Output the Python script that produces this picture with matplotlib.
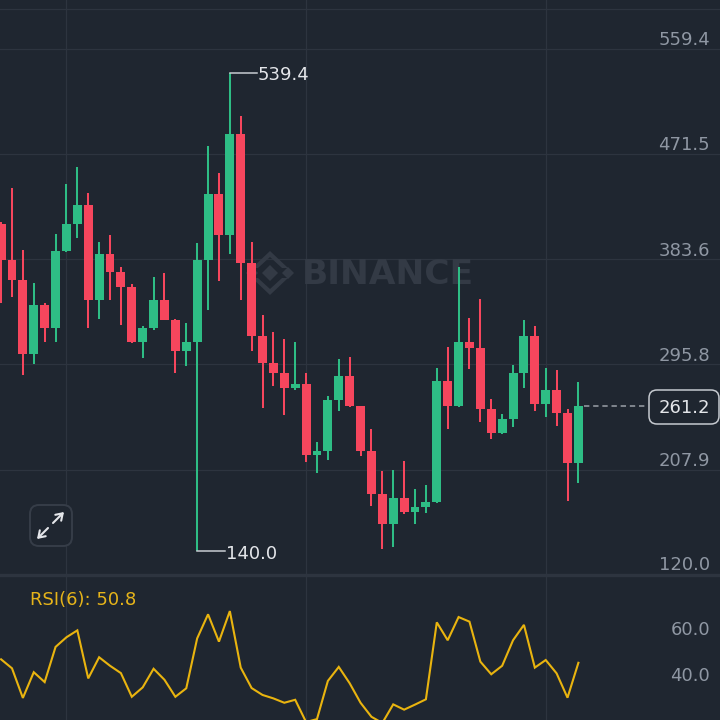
#!/usr/bin/env python
import numpy as np
import matplotlib
matplotlib.use('Agg')
import matplotlib.pyplot as plt
from matplotlib.patches import FancyBboxPatch, Polygon
from matplotlib.transforms import Affine2D

highs = [414.7, 443.1, 391.3, 363.8, 347.1, 404.7, 446.4, 460.6, 438.9, 398.0,
         403.8, 377.1, 362.9, 327.9, 368.8, 372.1, 333.7, 330.4, 397.2, 478.1,
         455.6, 539.4, 503.2, 398.0, 337.0, 322.9, 317.0, 314.5, 288.6, 231.0,
         269.4, 300.3, 302.0, 261.1, 241.9, 206.8, 207.7, 215.2, 191.8, 195.1,
         292.8, 310.3, 377.1, 334.5, 350.4, 266.9, 254.4, 295.3, 332.9, 327.9,
         292.8, 291.1, 258.6, 281.1]
lows = [347.1, 352.1, 287.0, 296.1, 314.5, 314.5, 389.6, 401.3, 326.2, 333.7,
        349.6, 328.7, 313.7, 301.2, 324.5, 332.5, 288.6, 294.5, 140.0, 341.2,
        365.4, 388.0, 349.6, 307.0, 259.4, 277.8, 253.6, 274.4, 214.3, 205.2,
        216.0, 256.9, 260.2, 219.3, 177.6, 141.7, 143.4, 170.9, 162.6, 171.8,
        180.1, 241.9, 260.2, 292.0, 247.7, 233.5, 238.1, 243.6, 276.1, 256.9,
        251.9, 244.4, 181.8, 196.8]
opens = [413.0, 383.0, 366.3, 304.5, 345.4, 326.2, 390.5, 413.0, 428.9, 349.6,
         388.0, 372.9, 360.4, 314.5, 326.2, 349.6, 332.9, 307.0, 314.5, 383.0,
         438.1, 403.8, 488.1, 380.5, 319.5, 297.0, 288.6, 276.1, 279.4, 220.2,
         223.5, 266.1, 286.1, 261.1, 223.5, 187.6, 162.6, 184.3, 172.6, 176.8,
         180.9, 282.0, 261.1, 314.5, 309.5, 258.6, 238.5, 250.2, 288.6, 319.5,
         262.8, 274.4, 255.2, 213.5]
closes = [383.0, 366.3, 304.5, 345.4, 326.2, 390.5, 413.0, 428.9, 349.6, 388.0,
          372.9, 360.4, 314.5, 326.2, 349.6, 332.9, 307.0, 314.5, 383.0, 438.1,
          403.8, 488.1, 380.5, 319.5, 297.0, 288.6, 276.1, 279.4, 220.2, 223.5,
          266.1, 286.1, 261.1, 223.5, 187.6, 162.6, 184.3, 172.6, 176.8, 180.9,
          282.0, 261.1, 314.5, 309.5, 258.6, 238.5, 250.2, 288.6, 319.5, 262.8,
          274.4, 255.2, 213.5, 261.2]
rsi = [52.3, 48.4, 35.5, 46.7, 42.4, 57.7, 61.9, 64.9, 44.0, 53.2,
       49.5, 46.3, 36.0, 40.1, 48.2, 43.4, 36.0, 39.7, 61.4, 71.9,
       60.0, 73.3, 48.7, 39.8, 36.8, 35.3, 33.4, 34.7, 25.0, 26.3,
       42.9, 49.0, 41.9, 33.4, 27.3, 24.6, 32.7, 30.4, 32.6, 34.9,
       68.4, 60.6, 70.7, 68.7, 51.3, 45.8, 49.5, 60.6, 67.3, 48.7,
       52.0, 46.2, 35.6, 50.8]

price_ticks = [120.0, 207.9, 295.8, 383.6, 471.5, 559.4]
rsi_ticks = [40.0, 60.0]
grid_candles = [6, 28, 50]
peak_idx, trough_idx = 21, 18

BG = '#1f2630'
GRID = '#2d343f'
GREEN = '#2ebd85'
RED = '#f6465d'
YELLOW = '#e6b41a'
LABEL = '#8f97a3'
LIGHT = '#e4e6ea'

plt.rcParams['font.family'] = 'DejaVu Sans'

fig = plt.figure(figsize=(7.2, 7.2), dpi=100, facecolor=BG)
ax = fig.add_axes([0, 145 / 720, 1, 575 / 720], facecolor=BG)
ax_rsi = fig.add_axes([0, 0, 1, 145 / 720], facecolor=BG)

# picture pixels, origin top left, for the decoration that is not data
px = Affine2D().scale(1, -1).translate(0, 720)

x = np.arange(len(closes))
opens, closes = np.array(opens), np.array(closes)
up = closes >= opens
colors = np.where(up, GREEN, RED)

for a in (ax, ax_rsi):
    a.set_xlim(-0.1, 66)
    a.set_xticks([])
    a.set_yticks([])
    for s in a.spines.values():
        s.set_visible(False)
    for g in grid_candles:
        a.axvline(g, color=GRID, lw=0.9, zorder=0)

ax.set_ylim(120, 600)
ax_rsi.set_ylim(25.9, 89)

for t in price_ticks:
    ax.axhline(t, color=GRID, lw=0.9, zorder=0)
    # the bottom label sits a little higher than the rest
    ax.annotate('%.1f' % t, xy=(1, t), xycoords=('axes fraction', 'data'),
                xytext=(-10, 10.5 if t == price_ticks[0] else 8.5), textcoords='offset pixels',
                ha='right', va='center', color=LABEL, fontsize=13)
ax.axhline(592.5, color=GRID, lw=0.9, zorder=0)
ax_rsi.axhline(89, color=GRID, lw=2.4, zorder=0, clip_on=False)

# watermark, sits under the candles
wm = '#333a45'
logo = [
    [(270, 251), (288, 268), (282, 268), (270, 257), (258, 268), (252, 268)],
    [(270, 295), (288, 278), (282, 278), (270, 289), (258, 278), (252, 278)],
    [(270, 265), (278, 273), (270, 281), (262, 273)],
    [(288, 267), (294, 273), (288, 279), (282, 273)],
    [(252, 267), (258, 273), (252, 279), (246, 273)],
]
for pts in logo:
    ax.add_patch(Polygon(pts, closed=True, facecolor=wm, edgecolor='none',
                         transform=px, zorder=0.5))
ax.text(302, 275, 'BINANCE', transform=px, color=wm, fontsize=24.8,
        fontweight='bold', ha='left', va='center', zorder=0.5)

ax.vlines(x, lows, highs, colors=colors, lw=1.45, zorder=2)
ax.bar(x, np.abs(closes - opens), bottom=np.minimum(opens, closes), width=0.82,
       color=colors, linewidth=0, zorder=3)

# high / low callouts
ax.plot([peak_idx, peak_idx + 2.5], [highs[peak_idx]] * 2, color='#c8ccd2', lw=1.1, zorder=4)
ax.annotate('%.1f' % highs[peak_idx], xy=(peak_idx + 2.5, highs[peak_idx]), xytext=(0, -2.5),
            textcoords='offset pixels', color=LIGHT, fontsize=13, va='center', ha='left', zorder=5)
ax.plot([trough_idx, trough_idx + 2.6], [lows[trough_idx]] * 2, color='#c8ccd2', lw=1.1, zorder=4)
ax.annotate('%.1f' % lows[trough_idx], xy=(trough_idx + 2.6, lows[trough_idx]), xytext=(1, -2.5),
            textcoords='offset pixels', color=LIGHT, fontsize=13, va='center', ha='left', zorder=5)

# last price tag
last = closes[-1]
ax.plot([x[-1] + 0.5, 59.4], [last, last], color='#9aa0a8', lw=1.1, ls=(0, (3.5, 2.5)), zorder=2)
ax.add_patch(FancyBboxPatch((654, 395), 60, 24, boxstyle='round,pad=5,rounding_size=8',
                            transform=px, facecolor=BG, edgecolor='#c6cad0', lw=1.1, zorder=6))
ax.annotate('%.1f' % last, xy=(684, 720 - 408), xycoords='figure pixels', ha='center',
            va='center', color=LIGHT, fontsize=13, zorder=7)

# expand button
ax.add_patch(FancyBboxPatch((37, 512), 28, 27, boxstyle='round,pad=7,rounding_size=9',
                            transform=px, facecolor=BG, edgecolor='#363d48', lw=1.4, zorder=6))
for tail, head in [((53, 523), (64, 512)), ((48, 528), (37, 539))]:
    ax.annotate('', xy=(head[0], 720 - head[1]), xytext=(tail[0], 720 - tail[1]),
                xycoords='figure pixels', textcoords='figure pixels', zorder=7,
                arrowprops=dict(arrowstyle='->,head_length=0.45,head_width=0.3', color=LIGHT,
                                lw=1.5, shrinkA=0, shrinkB=0))

ax_rsi.plot(x, rsi, color='#e9b40f', lw=1.5, solid_joinstyle='miter', zorder=3)
for t in rsi_ticks:
    ax_rsi.annotate('%.1f' % t, xy=(1, t), xycoords=('axes fraction', 'data'),
                    xytext=(-10, 11.5), textcoords='offset pixels',
                    ha='right', va='center', color=LABEL, fontsize=13)
ax_rsi.annotate('RSI(6): %.1f' % rsi[-1], xy=(30, 720 - 600), xycoords='figure pixels',
                ha='left', va='center', color=YELLOW, fontsize=13)

fig.savefig('out.png', dpi=100, facecolor=BG)
